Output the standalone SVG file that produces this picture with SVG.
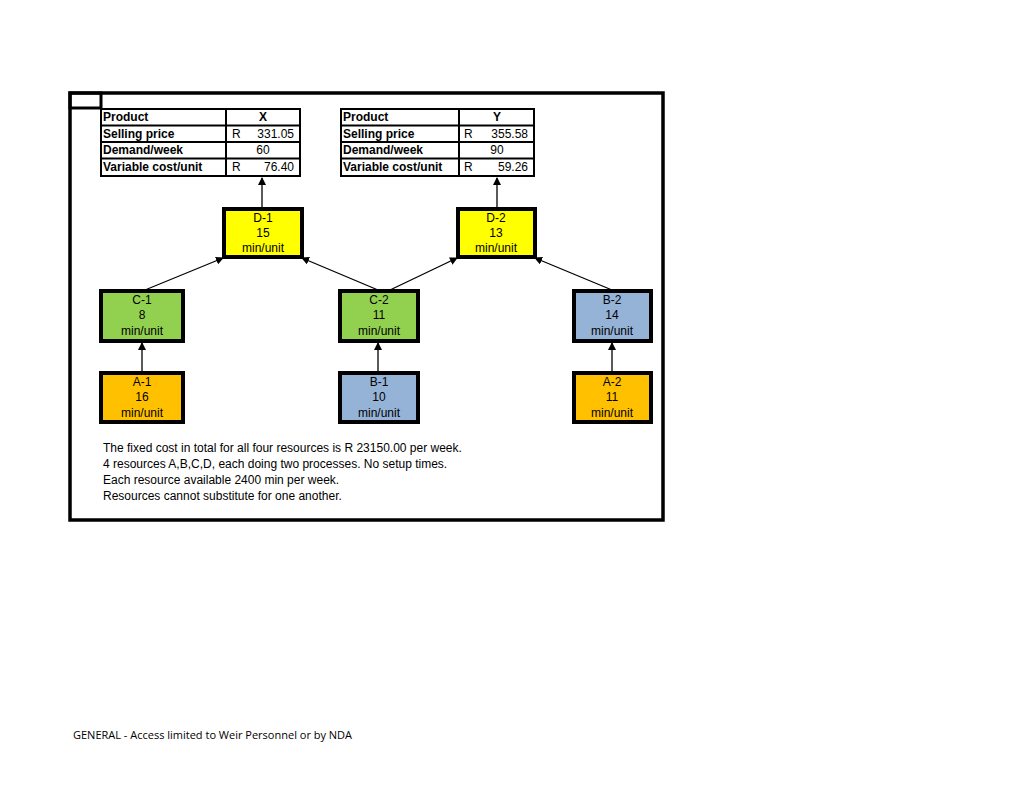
<svg xmlns="http://www.w3.org/2000/svg" width="1024" height="791" viewBox="0 0 1024 791">
<defs>
<marker id="ah" markerWidth="8" markerHeight="8" refX="7" refY="4" orient="auto" markerUnits="userSpaceOnUse"><path d="M0,0 L8,4 L0,8 Z" fill="#000"/></marker>
<style>
text{font-family:"Liberation Sans",Arial,sans-serif;font-size:12px;fill:#000}
.b{font-weight:bold}
.n{stroke:#000;stroke-width:4}
.t{fill:#fff;stroke:#000;stroke-width:2}
.c line{stroke:#000;stroke-width:1.3;marker-end:url(#ah)}
.m{text-anchor:middle}
</style>
</defs>
<rect width="1024" height="791" fill="#fff"/>
<rect x="70" y="93" width="593" height="427" fill="none" stroke="#000" stroke-width="3.5"/>
<rect x="70" y="93" width="31" height="15" fill="none" stroke="#000" stroke-width="3"/>
<g id="tableX">
<rect class="t" x="101" y="109" width="199" height="67"/>
<path d="M101,125.5H300M101,142H300M101,158.5H300M226,109V176" stroke="#000" stroke-width="2"/>
<text class="b" x="103" y="121">Product</text><text class="b" x="103" y="138">Selling price</text><text class="b" x="103" y="154">Demand/week</text><text class="b" x="103" y="171">Variable cost/unit</text>
<text class="b m" x="263" y="121">X</text><text x="232" y="138">R</text><text x="294" y="138" text-anchor="end">331.05</text><text class="m" x="263" y="154">60</text><text x="232" y="171">R</text><text x="294" y="171" text-anchor="end">76.40</text>
</g>
<g id="tableY">
<rect class="t" x="341" y="109" width="193" height="67"/>
<path d="M341,125.5H534M341,142H534M341,158.5H534M459,109V176" stroke="#000" stroke-width="2"/>
<text class="b" x="343" y="121">Product</text><text class="b" x="343" y="138">Selling price</text><text class="b" x="343" y="154">Demand/week</text><text class="b" x="343" y="171">Variable cost/unit</text>
<text class="b m" x="497" y="121">Y</text><text x="464" y="138">R</text><text x="528" y="138" text-anchor="end">355.58</text><text class="m" x="497" y="154">90</text><text x="464" y="171">R</text><text x="528" y="171" text-anchor="end">59.26</text>
</g>
<g class="c" id="connectors">
<line x1="262" y1="208" x2="262" y2="178"/>
<line x1="497" y1="208" x2="497" y2="178"/>
<line x1="145" y1="290" x2="223" y2="258"/>
<line x1="378" y1="290" x2="302" y2="258"/>
<line x1="390" y1="290" x2="457" y2="258"/>
<line x1="612" y1="290" x2="535" y2="258"/>
<line x1="142" y1="372" x2="142" y2="343"/>
<line x1="378" y1="372" x2="378" y2="343"/>
<line x1="612" y1="372" x2="612" y2="343"/>
</g>
<g id="D1"><rect class="n" x="224" y="209" width="78" height="48" fill="#ffff00"/><text class="m" x="263" y="222">D-1</text><text class="m" x="263" y="237">15</text><text class="m" x="263" y="252">min/unit</text></g>
<g id="D2"><rect class="n" x="458" y="209" width="77" height="48" fill="#ffff00"/><text class="m" x="496" y="222">D-2</text><text class="m" x="496" y="237">13</text><text class="m" x="496" y="252">min/unit</text></g>
<g id="C1"><rect class="n" x="101" y="291" width="82" height="50" fill="#92d050"/><text class="m" x="142" y="304">C-1</text><text class="m" x="142" y="319">8</text><text class="m" x="142" y="335">min/unit</text></g>
<g id="C2"><rect class="n" x="340" y="291" width="78" height="50" fill="#92d050"/><text class="m" x="379" y="304">C-2</text><text class="m" x="379" y="319">11</text><text class="m" x="379" y="335">min/unit</text></g>
<g id="B2"><rect class="n" x="574" y="291" width="77" height="50" fill="#95b3d7"/><text class="m" x="612" y="304">B-2</text><text class="m" x="612" y="319">14</text><text class="m" x="612" y="335">min/unit</text></g>
<g id="A1"><rect class="n" x="101" y="373" width="82" height="49" fill="#ffc000"/><text class="m" x="142" y="386">A-1</text><text class="m" x="142" y="401">16</text><text class="m" x="142" y="417">min/unit</text></g>
<g id="B1"><rect class="n" x="340" y="373" width="78" height="49" fill="#95b3d7"/><text class="m" x="379" y="386">B-1</text><text class="m" x="379" y="401">10</text><text class="m" x="379" y="417">min/unit</text></g>
<g id="A2"><rect class="n" x="574" y="373" width="77" height="49" fill="#ffc000"/><text class="m" x="612" y="386">A-2</text><text class="m" x="612" y="401">11</text><text class="m" x="612" y="417">min/unit</text></g>
<g id="notes">
<text x="103" y="452">The fixed cost in total for all four resources is R 23150.00 per week.</text>
<text x="103" y="468">4 resources A,B,C,D, each doing two processes. No setup times.</text>
<text x="103" y="484">Each resource available 2400 min per week.</text>
<text x="103" y="500">Resources cannot substitute for one another.</text>
</g>
<text x="73" y="739" style="font-family:'Open Sans','Liberation Sans',sans-serif;font-size:11px">GENERAL - Access limited to Weir Personnel or by NDA</text>
</svg>
